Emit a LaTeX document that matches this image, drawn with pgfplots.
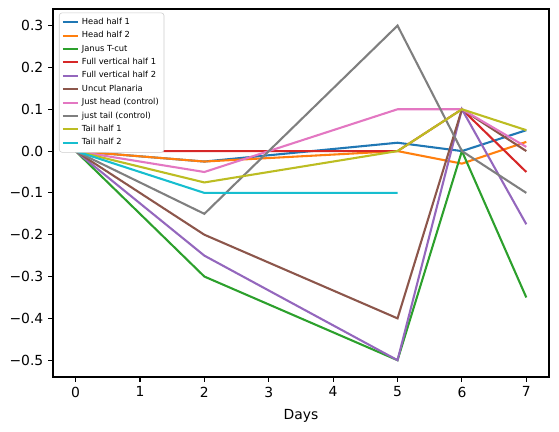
\documentclass[border=0pt]{standalone}
\usepackage{fontspec}
\setmainfont{DejaVu Sans}
\usepackage{pgfplots}
\pgfplotsset{compat=1.18}

\definecolor{c0}{HTML}{1F77B4}
\definecolor{c1}{HTML}{FF7F0E}
\definecolor{c2}{HTML}{2CA02C}
\definecolor{c3}{HTML}{D62728}
\definecolor{c4}{HTML}{9467BD}
\definecolor{c5}{HTML}{8C564B}
\definecolor{c6}{HTML}{E377C2}
\definecolor{c7}{HTML}{7F7F7F}
\definecolor{c8}{HTML}{BCBD22}
\definecolor{c9}{HTML}{17BECF}

\begin{document}
\begin{tikzpicture}
% 559x432 px figure -> 402.5x311 pt
\path[use as bounding box] (-38.2pt,-39.6pt) rectangle (364.3pt,271.4pt);
\begin{axis}[
    scale only axis,
    width=357pt, height=265pt,
    at={(0,0)}, anchor=south west,
    xmin=-0.35, xmax=7.35,
    ymin=-0.54, ymax=0.34,
    xtick={0,1,...,7},
    ytick={-0.5,-0.4,-0.3,-0.2,-0.1,0,0.1,0.2,0.3},
    yticklabels={−0.5,−0.4,−0.3,−0.2,−0.1,0.0,0.1,0.2,0.3},
    tick pos=left,
    tick align=outside,
    major tick length=3.5pt,
    tick style={black, line width=0.8pt},
    axis line style={black, line width=1pt},
    axis background/.style={draw=black, line width=1pt},
    /pgf/number format/assume math mode=true,
    ticklabel style={font=\fontsize{10}{12}\selectfont},
    xlabel={Days},
    xlabel style={font=\fontsize{10}{12}\selectfont, yshift=-2pt},
    every axis plot/.append style={line width=1.5pt, mark=none},
    legend cell align=left,
    legend style={at={(0.012,0.99)}, anchor=north west,
        font=\fontsize{6}{7.5}\selectfont,
        draw=black!20, rounded corners=2pt, fill=white,
        row sep=-0.4pt, inner sep=1.8pt},
    legend image code/.code={\draw[#1, line width=1.5pt] (0pt,0pt) -- (11pt,0pt);},
]
\addplot[c0] coordinates {(0,0) (2,-0.025) (5,0.02) (6,0) (7,0.05)};
\addlegendentry{Head half 1}
\addplot[c1] coordinates {(0,0) (2,-0.025) (5,0) (6,-0.03) (7,0.022)};
\addlegendentry{Head half 2}
\addplot[c2] coordinates {(0,0) (2,-0.3) (5,-0.5) (6,0) (7,-0.35)};
\addlegendentry{Janus T-cut}
\addplot[c3] coordinates {(0,0) (2,0) (5,0) (6,0.1) (7,-0.05)};
\addlegendentry{Full vertical half 1}
\addplot[c4] coordinates {(0,0) (2,-0.25) (5,-0.5) (6,0.1) (7,-0.175)};
\addlegendentry{Full vertical half 2}
\addplot[c5] coordinates {(0,0) (2,-0.2) (5,-0.4) (6,0.1) (7,0)};
\addlegendentry{Uncut Planaria}
\addplot[c6] coordinates {(0,0) (2,-0.05) (5,0.1) (6,0.1) (7,0.01)};
\addlegendentry{Just head (control)}
\addplot[c7] coordinates {(0,0) (2,-0.15) (5,0.3) (6,0) (7,-0.1)};
\addlegendentry{just tail (control)}
\addplot[c8] coordinates {(0,0) (2,-0.075) (5,0) (6,0.1) (7,0.05)};
\addlegendentry{Tail half 1}
\addplot[c9] coordinates {(0,0) (2,-0.1) (5,-0.1)};
\addlegendentry{Tail half 2}
\end{axis}
\end{tikzpicture}
\end{document}
